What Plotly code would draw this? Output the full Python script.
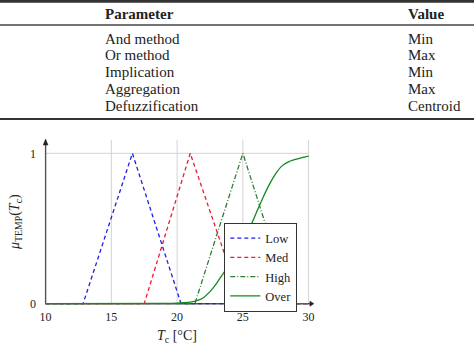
import plotly.graph_objects as go

# ---- table content (fuzzy inference settings) ----
table_header = ["Parameter", "Value"]
table_params = ["And method", "Or method", "Implication", "Aggregation", "Defuzzification"]
table_values = ["Min", "Max", "Min", "Max", "Centroid"]

# ---- membership functions of the temperature input T_c ----
low_x = [10, 12.85, 16.6, 20.3, 30]
low_y = [0, 0, 1, 0, 0]
med_x = [10, 17.5, 21.0, 24.9, 30]
med_y = [0, 0, 1, 0, 0]
high_x = [10, 21.35, 25.0, 28.65, 30]
high_y = [0, 0, 1, 0, 0]
over_x = [10, 19, 20, 20.5, 21, 21.5, 22, 22.5, 23, 23.5, 24, 24.5, 25,
          25.5, 26, 26.5, 27, 27.5, 28, 28.5, 29, 29.5, 30]
over_y = [0, 0.002, 0.004, 0.007, 0.011, 0.02, 0.04, 0.08, 0.135, 0.2, 0.26, 0.33, 0.42,
          0.5, 0.6, 0.7, 0.79, 0.865, 0.918, 0.945, 0.96, 0.972, 0.982]

x_ticks = [10, 15, 20, 25, 30]
y_ticks = [0, 1]

W, H = 474, 345
ML, MR, MT, MB = 43, 160, 138, 37
PW, PH = W - ML - MR, H - MT - MB

# pixel anchors of the data frame: x=10 at 45.6 px, 13.15 px per degree;
# y=0 at 303.7 px, 150.4 px per unit of membership
X0_PX, X_SCALE = 45.6, 13.15
Y0_PX, Y_SCALE = 303.7, 150.4
x_range = [10 - (X0_PX - ML) / X_SCALE, 10 + (W - MR - X0_PX) / X_SCALE]
y_range = [-(H - MB - Y0_PX) / Y_SCALE, (Y0_PX - MT) / Y_SCALE]

def px(x):
    return (x - ML) / PW

def py(y):
    return (H - MB - y) / PH

SERIF = "Liberation Serif"
AX = "#555555"
GRID = "#d4d4d4"

fig = go.Figure()
fig.add_trace(go.Scatter(x=low_x, y=low_y, mode="lines", name="Low",
                         line=dict(color="#1f1fe6", width=1.3, dash="4px,3px")))
fig.add_trace(go.Scatter(x=med_x, y=med_y, mode="lines", name="Med",
                         line=dict(color="#f0182a", width=1.3, dash="4px,3px")))
fig.add_trace(go.Scatter(x=high_x, y=high_y, mode="lines", name="High",
                         line=dict(color="#2f7d36", width=1.3, dash="5px,2px,1px,2px")))
fig.add_trace(go.Scatter(x=over_x, y=over_y, mode="lines", name="Over",
                         line=dict(color="#138a1e", width=1.3, shape="spline", smoothing=0.6)))

shapes = []
# grid
for xv in x_ticks[1:]:
    shapes.append(dict(type="line", xref="x", yref="y", x0=xv, x1=xv, y0=0, y1=1.09,
                       line=dict(color=GRID, width=1), layer="below"))
shapes.append(dict(type="line", xref="x", yref="y", x0=10, x1=30, y0=1, y1=1,
                   line=dict(color=GRID, width=1), layer="below"))
# axes
shapes.append(dict(type="line", xref="x", yref="y", x0=10, x1=10, y0=0, y1=1.07,
                   line=dict(color=AX, width=1.4), layer="below"))
shapes.append(dict(type="line", xref="x", yref="y", x0=10, x1=30.2, y0=0, y1=0,
                   line=dict(color=AX, width=1.4), layer="below"))
# arrow heads
shapes.append(dict(type="path", xref="x", yref="y",
                   path="M 10,1.095 L 9.82,1.055 L 10.18,1.055 Z",
                   fillcolor="#222", line=dict(color="#222", width=0.5)))
shapes.append(dict(type="path", xref="x", yref="y",
                   path="M 30.4,0 L 30.1,0.017 L 30.1,-0.017 Z",
                   fillcolor="#222", line=dict(color="#222", width=0.5)))
# table rules
shapes.append(dict(type="line", xref="paper", yref="paper", x0=px(0), x1=px(W), y0=py(1.3), y1=py(1.3),
                   line=dict(color="#333333", width=2.7)))
shapes.append(dict(type="line", xref="paper", yref="paper", x0=px(0), x1=px(W), y0=py(25), y1=py(25),
                   line=dict(color="#444444", width=1.3)))
shapes.append(dict(type="line", xref="paper", yref="paper", x0=px(0), x1=px(W), y0=py(119), y1=py(119),
                   line=dict(color="#333333", width=2)))

ann = []
TF = dict(family=SERIF, size=15, color="#222222")
ann.append(dict(text="<b>" + table_header[0] + "</b>", x=px(103), y=py(14), xref="paper", yref="paper",
                xanchor="left", yanchor="middle", showarrow=False, font=TF))
ann.append(dict(text="<b>" + table_header[1] + "</b>", x=px(406), y=py(14), xref="paper", yref="paper",
                xanchor="left", yanchor="middle", showarrow=False, font=TF))
row_y = [38.8, 55.3, 72, 88.8, 105.5]
for p, v, ry in zip(table_params, table_values, row_y):
    ann.append(dict(text=p, x=px(103), y=py(ry), xref="paper", yref="paper",
                    xanchor="left", yanchor="middle", showarrow=False, font=TF))
    ann.append(dict(text=v, x=px(406), y=py(ry), xref="paper", yref="paper",
                    xanchor="left", yanchor="middle", showarrow=False, font=TF))

# axis titles
ann.append(dict(text="<i>μ</i><sub>TEMP</sub>(<i>T</i><sub>c</sub>)", x=px(15), y=py(222),
                xref="paper", yref="paper", textangle=-90, showarrow=False,
                xanchor="center", yanchor="middle",
                font=dict(family=SERIF, size=14, color="#222")))
ann.append(dict(text="<i>T</i><sub>c</sub> [°C]", x=px(177), y=py(336),
                xref="paper", yref="paper", showarrow=False,
                xanchor="center", yanchor="middle",
                font=dict(family=SERIF, size=14, color="#222")))

fig.update_layout(
    width=W, height=H,
    margin=dict(l=ML, r=MR, t=MT, b=MB, pad=0),
    paper_bgcolor="white", plot_bgcolor="white",
    shapes=shapes, annotations=ann,
    showlegend=True,
    legend=dict(x=px(224.3), y=py(222.5), xanchor="left", yanchor="top",
                bgcolor="white", bordercolor="#333333", borderwidth=1,
                font=dict(family=SERIF, size=12.5, color="#222"),
                itemwidth=30, tracegroupgap=0),
    xaxis=dict(range=x_range, tickvals=x_ticks, showgrid=False, zeroline=False,
               showline=False, ticks="", ticklabelstandoff=0,
               tickfont=dict(family=SERIF, size=12, color="#222")),
    yaxis=dict(range=y_range, tickvals=y_ticks, showgrid=False, zeroline=False,
               showline=False, ticks="", ticklabelstandoff=6,
               tickfont=dict(family=SERIF, size=12, color="#222")),
)

fig.write_html("out.html")
